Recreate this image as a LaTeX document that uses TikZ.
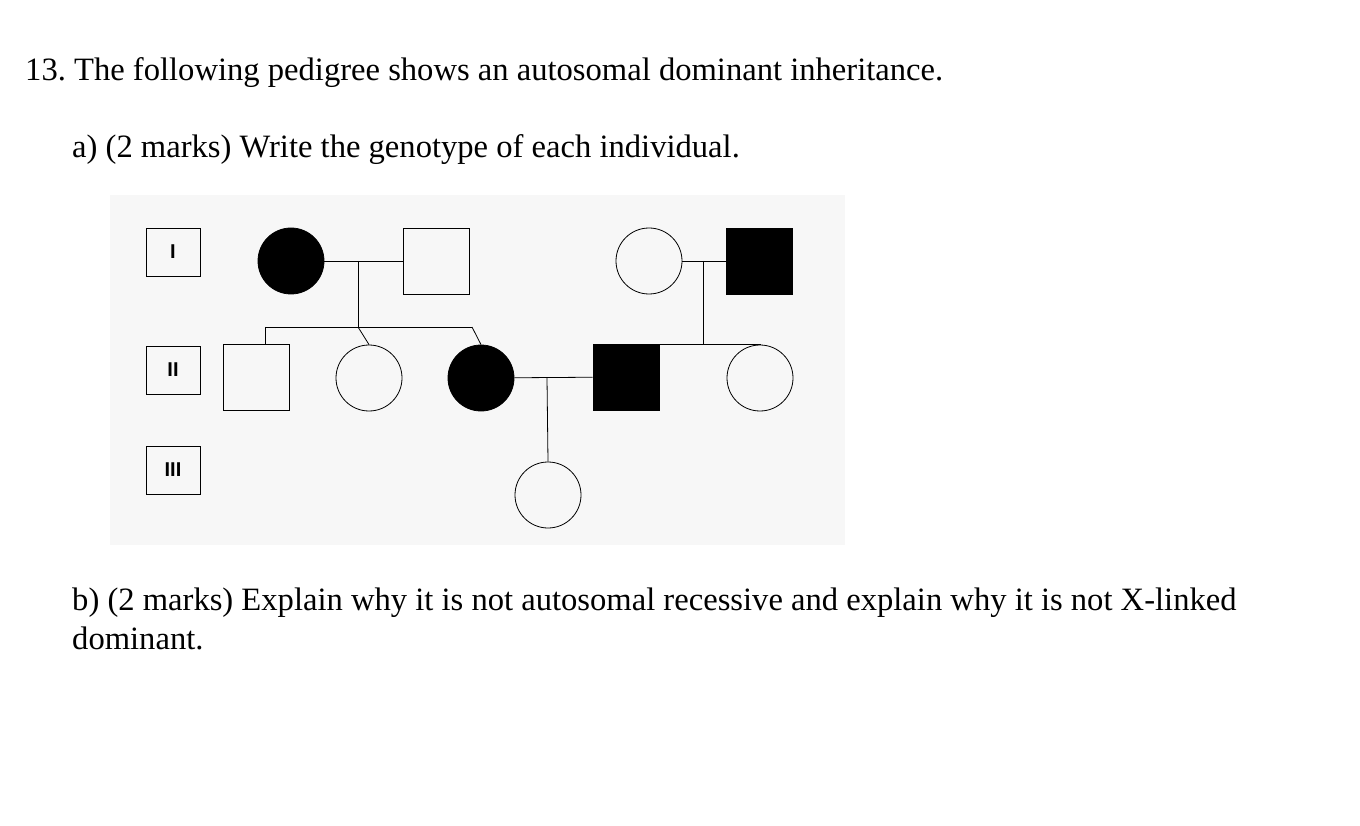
\documentclass[tikz,border=0pt]{standalone}
\usepackage{fontspec}
\setmainfont{Liberation Serif}
\setsansfont{Liberation Sans}
\begin{document}
\frenchspacing
\begin{tikzpicture}[x=1pt,y=-1pt,
 txt/.style={anchor=west,inner sep=0pt,font=\fontsize{32.6}{36}\selectfont},
 gen/.style={draw,thick,minimum width=54pt,minimum height=48pt,inner sep=0pt,font=\sffamily\bfseries\fontsize{20}{22}\selectfont},
 male/.style={draw,thick,minimum size=66pt,inner sep=0pt},
 female/.style={draw,thick,circle,minimum size=66pt,inner sep=0pt},
 aff/.style={fill=black},
 ln/.style={thick}]
\useasboundingbox (0,0) rectangle (1360,826);
\fill[black!3] (110,195) rectangle (845,545);
\node[txt] (t1) at (25,73) {13. The following pedigree shows an autosomal dominant inheritance.};
\node[txt] (t2) at (72,150) {a) (2 marks) Write the genotype of each individual.};
\node[txt] (t3) at (72,603) {b) (2 marks) Explain why it is not autosomal recessive and explain why it is not X-linked};
\node[txt] (t4) at (72,638) {dominant.};
\node[gen] (g1) at (173,252) {I};
\node[gen] (g2) at (173,370) {II};
\node[gen] (g3) at (173,470) {III};
\node[female,aff] (a) at (291,261) {};
\node[male] (b) at (436,261) {};
\node[female] (c) at (649,261) {};
\node[male,aff] (d) at (759,261) {};
\node[male] (e) at (256,377) {};
\node[female] (f) at (369,378) {};
\node[female,aff] (g) at (481,378) {};
\node[male,aff] (h) at (626,377) {};
\node[female] (i) at (760,378) {};
\node[female] (j) at (548,495) {};
\coordinate (m1) at (358,261);
\coordinate (s1) at (358,327);
\coordinate (m2) at (703,261);
\coordinate (s2) at (703,344);
\coordinate (m3) at (547,378);
\draw[ln] (a) -- (b);
\draw[ln] (c) -- (d);
\draw[ln] (g) -- (h);
\draw[ln] (m1) -- (s1);
\draw[ln] (265,327) -- (472,327);
\draw[ln] (265,327) -- (e.north -| 265,0);
\draw[ln] (s1) -- (f.north);
\draw[ln] (472,327) -- (g.north);
\draw[ln] (m2) -- (s2);
\draw[ln] (659,344) -- (760,344) -- (i.north);
\draw[ln] (m3) -- (j.north);
\end{tikzpicture}
\end{document}
